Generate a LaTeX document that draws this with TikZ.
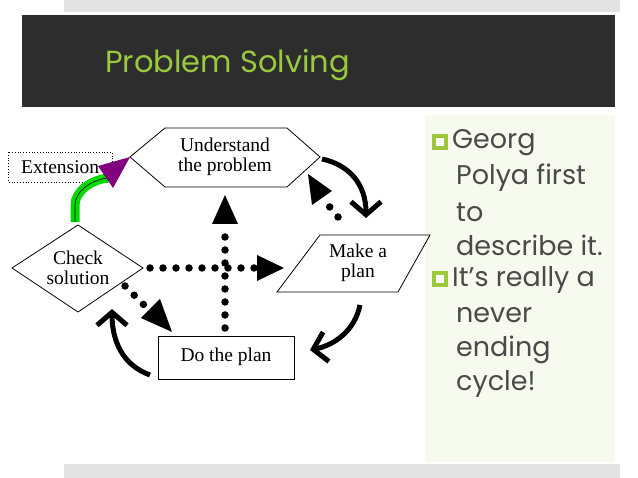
\documentclass[tikz,border=0pt]{standalone}
\usepackage{fontspec}
\setmainfont{Liberation Serif}
\newfontfamily\slidefont{Poppins}
\usetikzlibrary{arrows.meta,calc}
\definecolor{hdr}{HTML}{2D2D2D}
\definecolor{ttl}{HTML}{9CC83E}
\definecolor{panel}{HTML}{F7FAEE}
\definecolor{bodyc}{HTML}{4A4A4A}
\definecolor{strip}{HTML}{E3E3E3}
\definecolor{purp}{HTML}{800080}
\tikzset{
  lbl/.style={font=\fontsize{19.5}{20}\selectfont, align=center, inner sep=0},
  dots/.style={line width=7.5pt, line cap=round, dash pattern=on 0pt off 13pt, shorten >=2pt},
  curvy/.style={line width=5pt, -{Straight Barb[length=13pt,width=30pt,line width=5pt]}},
  bl/.style={font=\slidefont\fontsize{27}{27}\selectfont, text=bodyc, anchor=west, inner sep=0},
  sq/.style={fill=ttl, minimum size=16pt, inner sep=0, path picture={\fill[white] ([shift={(4pt,-4pt)}]path picture bounding box.north west) rectangle ([shift={(-4pt,4pt)}]path picture bounding box.south east);}}
}
\begin{document}
\begin{tikzpicture}[x=1pt,y=-1pt]
\useasboundingbox (0,0) rectangle (638,478);
\fill[white] (0,0) rectangle (638,478);
\fill[strip] (64,0) rectangle (620,12);
\fill[strip] (64,464) rectangle (620,478);
\fill[hdr] (22,15) rectangle (615,107);
\node[font=\slidefont\fontsize{30.5}{30}\selectfont, text=ttl, anchor=west, inner sep=0] (title) at (105,65) {Problem Solving};
\fill[panel] (425,115) rectangle (615,462);
% bullets
\node[sq] (b1) at (440,142) {};
\node[bl] (t1) at (452,143) {Georg};
\node[bl] (t2) at (456,178) {Polya first};
\node[bl] (t3) at (456,212) {to};
\node[bl] (t4) at (456,245) {describe it.};
\node[sq] (b2) at (440,279) {};
\node[bl] (t5) at (452,280) {It’s really a};
\node[bl] (t6) at (456,315) {never};
\node[bl] (t7) at (456,350) {ending};
\node[bl] (t8) at (456,384) {cycle!};
% diagram shapes
\draw[line width=0.8pt] (130,157) -- (165,128) -- (287,128) -- (320,157) -- (287,187) -- (165,187) -- cycle;
\node[lbl] (und) at (225,157) {Understand\\the problem};
\draw[dotted, line width=0.8pt] (8,152) rectangle (112,182);
\node[lbl, anchor=west] (ext) at (21,167) {Extension};
\draw[line width=0.8pt] (12,268) -- (78,225) -- (143,268) -- (78,312) -- cycle;
\node[lbl] (chk) at (78,268) {Check\\solution};
\draw[line width=0.8pt] (320,235) -- (430,235) -- (398,292) -- (277,292) -- cycle;
\node[lbl] (mk) at (358,263) {Make a\\plan};
\draw[line width=0.8pt] (158,336) rectangle (294,379);
\node[lbl] (do) at (226,357) {Do the plan};
% coordinates
\coordinate (vS) at (225,328); \coordinate (vE) at (225,195);
\coordinate (hS) at (150,268); \coordinate (hE) at (284,268);
\coordinate (dS) at (125,286); \coordinate (dE) at (172,332);
\coordinate (uS) at (338,217); \coordinate (uE) at (308,174);
% dotted arrows
\draw[dots] (vS) -- ($(vE)+(0,28)$);
\fill (vE) -- (212,224) -- (238,224) -- cycle;
\draw[dots] (hS) -- (258,268);
\fill (hE) -- (257,255) -- (257,281) -- cycle;
\draw[dots] (dS) -- (148,309);
\fill (dE) -- (141,318) -- (160,299) -- cycle;
\draw[dots] (uS) -- (324,200);
\fill (uE) -- (332,191) -- (312,205) -- cycle;
% solid curved arrows
\coordinate (c1) at (322,159); \coordinate (c1e) at (366,218);
\draw[curvy] (c1) .. controls (350,165) and (366,185) .. (c1e);
\coordinate (c2) at (360,305); \coordinate (c2e) at (310,350);
\draw[curvy] (c2) .. controls (355,330) and (335,345) .. (c2e);
\coordinate (c3) at (150,375); \coordinate (c3e) at (112,309);
\draw[curvy] (c3) .. controls (122,365) and (112,340) .. (c3e);
% green arrow to understand
\coordinate (g1) at (75,222); \coordinate (g2) at (108,178);
\draw[green!85!black, line width=9pt] (g1) -- (75,205) .. controls (75,192) and (90,180) .. (g2);
\draw[black, line width=0.6pt] (g1) -- (75,205) .. controls (75,192) and (90,180) .. (g2);
\fill[purp] (130,157) -- (98,166) -- (113,188) -- cycle;
\end{tikzpicture}
\end{document}
